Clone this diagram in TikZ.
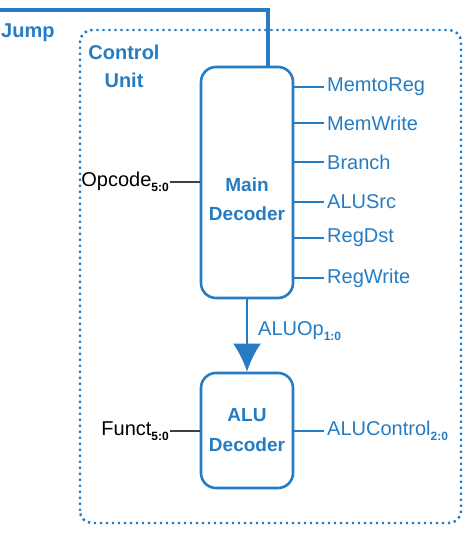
\documentclass[tikz,border=0pt]{standalone}
\usepackage{fontspec}
\setmainfont{Liberation Sans}
\usetikzlibrary{arrows.meta,positioning,calc}

\definecolor{cublue}{RGB}{38,124,194}
\newcommand{\subidx}[1]{\raisebox{-5pt}{\fontsize{12}{12}\selectfont\bfseries #1}}

\begin{document}
\begin{tikzpicture}[x=1pt, y=1pt,
    every node/.style={font=\fontsize{20}{28}\selectfont},
    decoder/.style={draw=cublue, line width=2.6pt, rounded corners=15pt, minimum width=92pt},
    boxtext/.style={text=cublue, font=\fontsize{19}{29}\selectfont\bfseries, align=center},
    sig/.style={text=cublue, anchor=west, inner sep=3pt},
    inp/.style={anchor=east, inner sep=1pt},
    wire/.style={draw=cublue, line width=2pt},
    inwire/.style={draw=black!75, line width=2pt},
    jumpline/.style={draw=cublue, line width=3.6pt},
    oparrow/.style={draw=cublue, line width=2.6pt, -{Latex[length=28pt,width=28pt]}},
    unitbox/.style={draw=cublue, line width=2.4pt, rounded corners=12pt, dash pattern=on 2.4pt off 3.6pt}
  ]
    \useasboundingbox (0,0) rectangle (474,543);

    % Steuereinheit (gepunkteter Rahmen)
    \draw[unitbox] (80,20) rectangle (461,513);
    \node[boxtext, font=\fontsize{20}{28}\selectfont\bfseries] (cutitle) at (124,477) {Control\\Unit};

    % Decoder
    \node[decoder, minimum height=231pt] (main) at (247,360.5) {};
    \node[boxtext] (maintxt) at ([yshift=-17pt]main.center) {Main\\Decoder};
    \node[decoder, minimum height=115pt, boxtext, font=\fontsize{19}{30}\selectfont\bfseries] (alu) at (247,112.5) {ALU\\Decoder};

    % Ausgaenge Main Decoder
    \foreach \sig/\yy in {MemtoReg/456, MemWrite/420, Branch/381, ALUSrc/341, RegDst/305, RegWrite/265} {
      \node[sig] (\sig) at (324,\yy) {\sig};
      \draw[wire] (main.east |- \sig.west) -- (\sig.west);
    }

    % Eingaenge
    \node[inp] (opcode) at (170,361) {Opcode\subidx{5:0}};
    \draw[inwire] (opcode.east) -- (opcode.east -| main.west);
    \node[inp] (funct) at (170,112) {Funct\subidx{5:0}};
    \draw[inwire] (funct.east) -- (funct.east -| alu.west);

    % ALUControl
    \node[sig] (aluctrl) at (324,112) {ALUControl\subidx{2:0}};
    \draw[wire] (alu.east |- aluctrl.west) -- (aluctrl.west);

    % ALUOp
    \draw[oparrow] (main.south) -- (alu.north);
    \node[sig] (aluop) at (255,212) {ALUOp\subidx{1:0}};

    % Jump
    \coordinate (jumpend) at (0,533);
    \draw[jumpline] ([xshift=21pt]main.north) |- (jumpend);
    \node[text=cublue, font=\fontsize{20}{28}\selectfont\bfseries, anchor=west, inner sep=0pt] (jump) at (1,510) {Jump};
  \end{tikzpicture}
\end{document}
